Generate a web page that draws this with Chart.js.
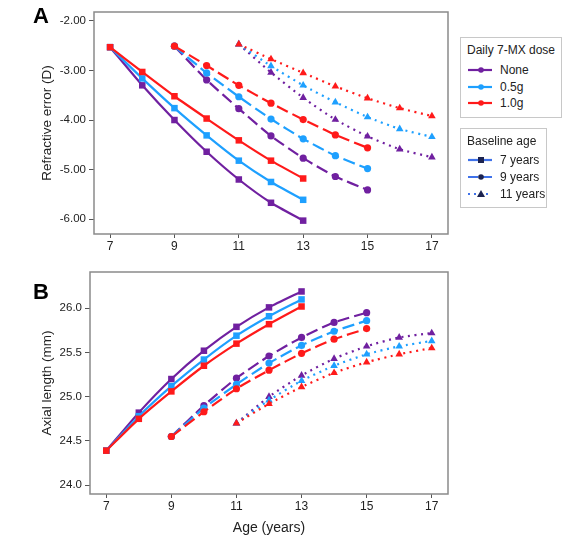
<!DOCTYPE html>
<html>
<head>
<meta charset="utf-8">
<script src="https://cdn.jsdelivr.net/npm/chart.js@4/dist/chart.umd.min.js"></script>
<style>
  body { margin: 0; background: #fff; font-family: "Liberation Sans", Arial, sans-serif; }
  #wrap { position: relative; width: 587px; height: 541px; overflow: hidden; }
  canvas { position: absolute; left: 0; }
  .panel { position: absolute; font-weight: bold; font-size: 22px; color: #000; }
  .legend { position: absolute; border: 1px solid #c8c8c8; background: #fff; font-size: 12px; color: #222; }
  .legend .title { position: absolute; left: 6px; white-space: nowrap; }
  .legend .row { position: absolute; left: 7px; height: 12px; display: flex; align-items: center; white-space: nowrap; }
  .legend .row svg { margin-right: 8px; }
</style>
</head>
<body>
<div id="wrap">
  <canvas id="chartA" width="587" height="270" style="top:0"></canvas>
  <canvas id="chartB" width="587" height="281" style="top:260px"></canvas>
  <div class="panel" style="left:33px;top:3px">A</div>
  <div class="panel" style="left:33px;top:279px">B</div>
  <div class="legend" id="doseLegend" style="left:460px;top:37px;width:100px;height:79px"></div>
  <div class="legend" id="ageLegend" style="left:460px;top:128px;width:85px;height:78px"></div>
</div>
<script>
// ages and cohorts
const xTicks = [7, 9, 11, 13, 15, 17];
const ages7 = [7, 8, 9, 10, 11, 12, 13];
const ages9 = [9, 10, 11, 12, 13, 14, 15];
const ages11 = [11, 12, 13, 14, 15, 16, 17];

const doseNames = ['None', '0.5g', '1.0g'];
const cohortNames = ['7 years', '9 years', '11 years'];

// panel A: refractive error (D)
const ref7None = [-2.53, -3.30, -4.00, -4.64, -5.20, -5.67, -6.03];
const ref7Low = [-2.53, -3.16, -3.76, -4.31, -4.82, -5.25, -5.61];
const ref7High = [-2.53, -3.03, -3.52, -3.97, -4.41, -4.82, -5.18];
const ref9None = [-2.51, -3.19, -3.77, -4.32, -4.77, -5.14, -5.41];
const ref9Low = [-2.51, -3.05, -3.53, -3.98, -4.38, -4.72, -4.98];
const ref9High = [-2.51, -2.90, -3.30, -3.66, -3.99, -4.30, -4.56];
const ref11None = [-2.47, -3.04, -3.55, -3.99, -4.33, -4.59, -4.75];
const ref11Low = [-2.47, -2.91, -3.30, -3.64, -3.94, -4.18, -4.34];
const ref11High = [-2.47, -2.77, -3.05, -3.32, -3.56, -3.76, -3.92];
const refTicks = [-6, -5, -4, -3, -2];

// panel B: axial length (mm)
const ax7None = [24.39, 24.82, 25.20, 25.52, 25.79, 26.01, 26.19];
const ax7Low = [24.39, 24.78, 25.12, 25.42, 25.69, 25.91, 26.10];
const ax7High = [24.39, 24.75, 25.06, 25.35, 25.60, 25.82, 26.02];
const ax9None = [24.55, 24.90, 25.21, 25.46, 25.67, 25.84, 25.95];
const ax9Low = [24.55, 24.87, 25.14, 25.38, 25.58, 25.74, 25.86];
const ax9High = [24.55, 24.83, 25.09, 25.30, 25.49, 25.65, 25.77];
const ax11None = [24.70, 25.00, 25.24, 25.43, 25.57, 25.67, 25.72];
const ax11Low = [24.70, 24.96, 25.18, 25.35, 25.48, 25.57, 25.63];
const ax11High = [24.70, 24.92, 25.11, 25.27, 25.39, 25.48, 25.55];
const axTicks = [24.0, 24.5, 25.0, 25.5, 26.0];

const doseColors = ['#7020a0', '#1ea0ff', '#ff1a1a'];
const cohortDash = [[], [12, 5], [2, 4.5]];
const cohortPoint = ['rect', 'circle', 'triangle'];
const cohortRadius = [4.6, 3.6, 4.4];
const FONT = '"Liberation Sans", Arial, sans-serif';

function buildSets(series) {
    const agesList = [ages7, ages9, ages11];
    const out = [];
    series.forEach((row, c) => {
        row.forEach((vals, d) => {
            out.push({
                label: doseNames[d] + ' / ' + cohortNames[c],
                data: agesList[c].map((a, i) => ({ x: a, y: vals[i] })),
                borderColor: doseColors[d],
                backgroundColor: doseColors[d],
                borderWidth: 2.2,
                borderDash: cohortDash[c],
                pointStyle: cohortPoint[c],
                pointRadius: cohortRadius[c],
                pointBorderWidth: 0,
                tension: 0.2,
                order: 2 - d
            });
        });
    });
    return out;
}

const frame = {
    id: 'frame',
    beforeDatasetsDraw(chart) {
        const { ctx, chartArea: a } = chart;
        ctx.save();
        ctx.strokeStyle = '#8a8a8a';
        ctx.lineWidth = 1.5;
        ctx.strokeRect(a.left, a.top, a.right - a.left, a.bottom - a.top);
        ctx.restore();
    }
};

function makeChart(id, sets, yTicks, yMin, yMax, digits, yTitle, opts) {
    return new Chart(document.getElementById(id).getContext('2d'), {
        type: 'line',
        data: { datasets: sets },
        plugins: [frame],
        options: {
            responsive: false,
            animation: false,
            layout: { padding: opts.padding },
            plugins: { legend: { display: false }, tooltip: { enabled: false } },
            scales: {
                x: {
                    type: 'linear', min: 6.5, max: 17.5,
                    afterBuildTicks: (s) => { s.ticks = xTicks.map(v => ({ value: v })); },
                    afterFit: (s) => { s.height = opts.xHeight; },
                    grid: { drawOnChartArea: false, tickLength: 4, tickColor: '#555' },
                    border: { display: false },
                    ticks: { color: '#222', font: { family: FONT, size: 12 }, padding: 1, maxRotation: 0 },
                    title: {
                        display: !!opts.xTitle, text: opts.xTitle || '', color: '#222',
                        font: { family: FONT, size: 14 }, padding: { top: 4, bottom: 0 }
                    }
                },
                y: {
                    type: 'linear', min: yMin, max: yMax,
                    afterBuildTicks: (s) => { s.ticks = yTicks.map(v => ({ value: v })); },
                    afterFit: (s) => { s.width = opts.yWidth; },
                    grid: { drawOnChartArea: false, tickLength: 5, tickColor: '#555' },
                    border: { display: false },
                    ticks: { color: '#222', font: { family: FONT, size: 11.5 }, padding: 3,
                             callback: (v) => Number(v).toFixed(digits) },
                    title: {
                        display: true, text: yTitle, color: '#222',
                        font: { family: FONT, size: 13.5 }, padding: { top: 5, bottom: 0 }
                    }
                }
            }
        }
    });
}

makeChart('chartA',
    buildSets([[ref7None, ref7Low, ref7High], [ref9None, ref9Low, ref9High], [ref11None, ref11Low, ref11High]]),
    refTicks, -6.3, -1.82, 2, 'Refractive error (D)',
    { padding: { left: 34, right: 139, top: 12, bottom: 10 }, yWidth: 60, xHeight: 26 });

makeChart('chartB',
    buildSets([[ax7None, ax7Low, ax7High], [ax9None, ax9Low, ax9High], [ax11None, ax11Low, ax11High]]),
    axTicks, 23.9, 26.41, 1, 'Axial length (mm)',
    { padding: { left: 34, right: 139, top: 12, bottom: 4 }, yWidth: 56, xHeight: 43, xTitle: 'Age (years)' });

// legends
function sample(color, dash, marker, markerColor) {
    const d = dash.length ? ' stroke-dasharray="' + dash.join(',') + '"' : '';
    let m = '';
    if (marker === 'circle') m = '<circle cx="13" cy="6" r="2.8" fill="' + markerColor + '"/>';
    if (marker === 'rect') m = '<rect x="10" y="3" width="6" height="6" fill="' + markerColor + '"/>';
    if (marker === 'triangle') m = '<polygon points="13,2 17,9 9,9" fill="' + markerColor + '"/>';
    return '<svg width="24" height="12"><line x1="0" y1="6" x2="24" y2="6" stroke="' + color +
        '" stroke-width="2.2"' + d + '/>' + m + '</svg>';
}

const doseBox = document.getElementById('doseLegend');
let html = '<div class="title" style="top:5px">Daily 7-MX dose</div>';
doseNames.forEach((n, i) => {
    html += '<div class="row" style="top:' + (26 + i * 16.5) + 'px">' +
        sample(doseColors[i], [], 'circle', doseColors[i]) + n + '</div>';
});
doseBox.innerHTML = html;

const ageBox = document.getElementById('ageLegend');
html = '<div class="title" style="top:5px">Baseline age</div>';
cohortNames.forEach((n, i) => {
    html += '<div class="row" style="top:' + (25 + i * 16.8) + 'px">' +
        sample('#3f72ea', i === 1 ? [10, 4] : i === 2 ? [2, 4] : [], cohortPoint[i], '#1c2350') + n + '</div>';
});
ageBox.innerHTML = html;
</script>
</body>
</html>
